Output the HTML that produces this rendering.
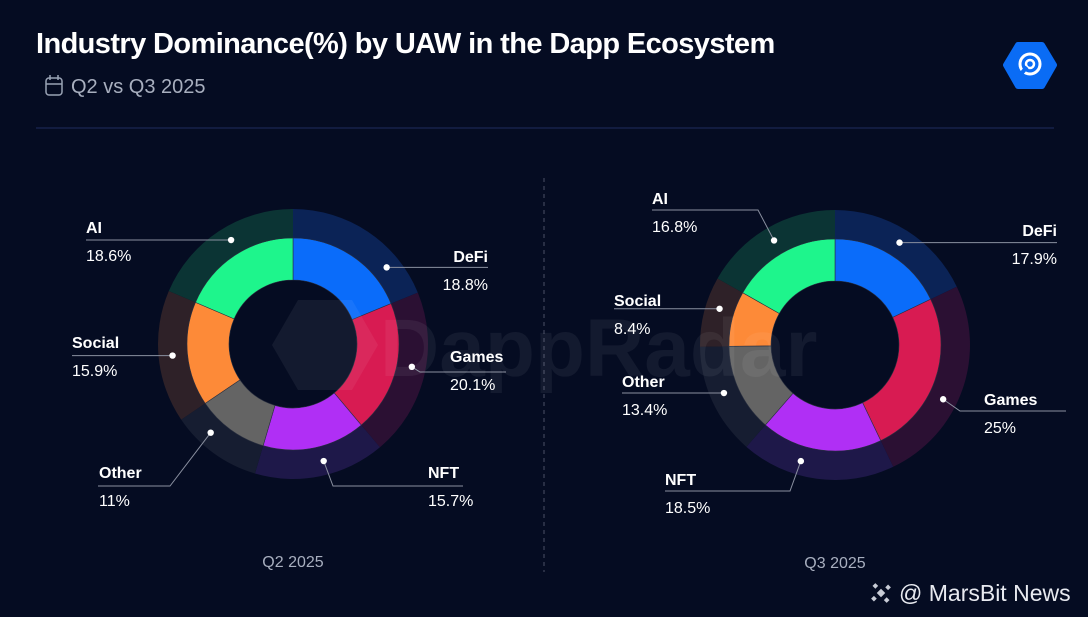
<!DOCTYPE html>
<html><head><meta charset="utf-8"><style>
html,body{margin:0;padding:0;background:#050c22;}
body{width:1088px;height:617px;overflow:hidden;position:relative;font-family:"Liberation Sans",sans-serif;}
</style></head><body>
<svg id="chart" width="1088" height="617" xmlns="http://www.w3.org/2000/svg" style="position:absolute;left:0;top:0">
<rect width="1088" height="617" fill="#050c22"/>
<text x="36" y="53" fill="#ffffff" font-size="29" font-weight="bold" letter-spacing="-0.6">Industry Dominance(%) by UAW in the Dapp Ecosystem</text>
<g stroke="#9aa3b5" stroke-width="1.5" fill="none">
<rect x="46" y="78" width="16" height="17" rx="3"/><line x1="50" y1="75" x2="50" y2="80"/><line x1="58" y1="75" x2="58" y2="80"/><line x1="46" y1="84" x2="62" y2="84"/>
</g>
<text x="71" y="93" fill="#a8afbf" font-size="20">Q2 vs Q3 2025</text>
<g>
<polygon points="1018,45 1042,45 1054,65 1042,86 1018,86 1006,65" fill="#0a6cf5" stroke="#0a6cf5" stroke-width="6" stroke-linejoin="round"/>
<circle cx="1030" cy="64" r="10" fill="none" stroke="#fff" stroke-width="3"/><circle cx="1030" cy="64" r="4" fill="none" stroke="#fff" stroke-width="2.5"/>
<line x1="1027" y1="67" x2="1020" y2="75" stroke="#0a6cf5" stroke-width="4"/>
</g>
<line x1="36" y1="128" x2="1054" y2="128" stroke="#17224a" stroke-width="1.5"/>
<line x1="544" y1="178" x2="544" y2="572" stroke="#4a5066" stroke-width="1" stroke-dasharray="4,4"/>
<g id="donuts"></g>
<g fill="#ffffff" fill-opacity="0.06">
<polygon points="298,300 352,300 378,345 352,390 298,390 272,345"/>
<text x="380" y="376" font-size="82" font-weight="bold">DappRadar</text>
</g>
<text x="293" y="567" text-anchor="middle" fill="#a8afbf" font-size="16">Q2 2025</text>
<text x="835" y="568" text-anchor="middle" fill="#a8afbf" font-size="16">Q3 2025</text>
<g>
<g transform="translate(881,593) rotate(45)" fill="#c8ccd6"><rect x="-3" y="-3" width="6" height="6"/><rect x="-11" y="-3" width="4" height="4"/><rect x="7" y="-1" width="4" height="4"/><rect x="-1" y="-11" width="4" height="4"/><rect x="-3" y="7" width="4" height="4"/></g>
<text x="899" y="601" fill="#e8eaf0" font-size="23">@ MarsBit News</text>
</g>
</svg>
<script>
const categories = ["DeFi","Games","NFT","Other","Social","AI"];
const q2Values = [18.8,20.1,15.7,11,15.9,18.6];
const q3Values = [17.9,25,18.5,13.4,8.4,16.8];
const q2Labels = ["18.8%","20.1%","15.7%","11%","15.9%","18.6%"];
const q3Labels = ["17.9%","25%","18.5%","13.4%","8.4%","16.8%"];
const innerColors = ["#0a6cfa","#d81b52","#b02ff5","#646464","#fd8a38","#1ef58c"];
const outerColors = ["#0b2356","#2b1033","#1e1849","#161d31","#2e2128","#0b3434"];
// where within each slice the label dot sits (0..1)
const q2DotPos = [0.75,0.46,0.45,0.67,0.5,0.54];
const q3DotPos = [0.5,0.58,0.63,0.53,0.6,0.5];
// label anchors [textX, textY(name), align, elbowX, elbowY, lineEndX]
const q2Anchors = [[488,262,"end",null,null,488],[450,362,"start",420,372,506],[428,478,"start",333,486,463],[99,478,"start",170,486,98],[72,348,"start",null,null,72],[86,233,"start",null,null,86]];
const q3Anchors = [[1057,236,"end",null,null,1057],[984,405,"start",960,411,1066],[665,485,"start",790,491,665],[622,387,"start",null,null,622],[614,306,"start",null,null,614],[652,204,"start",758,210,652]];
const NS="http://www.w3.org/2000/svg";
const g=document.getElementById('donuts');
function mk(t,a,p){const e=document.createElementNS(NS,t);for(const k in a)e.setAttribute(k,a[k]);(p||g).appendChild(e);return e;}
function pt(cx,cy,r,a){return [cx+r*Math.sin(a),cy-r*Math.cos(a)];}
function arc(cx,cy,r0,r1,a0,a1){const l=(a1-a0)>Math.PI?1:0;const p1=pt(cx,cy,r1,a0),p2=pt(cx,cy,r1,a1),p3=pt(cx,cy,r0,a1),p4=pt(cx,cy,r0,a0);
return `M${p1}A${r1},${r1} 0 ${l} 1 ${p2}L${p3}A${r0},${r0} 0 ${l} 0 ${p4}Z`;}
function donut(cx,cy,vals,labels,anch,dotPos,key){
 const tot=vals.reduce((a,b)=>a+b,0);let a=0;
 vals.forEach((v,i)=>{const a1=a+v/tot*2*Math.PI;
  const o=mk('path',{d:arc(cx,cy,106,135,a,a1),fill:outerColors[i]});
  
  
  const s=mk('path',{d:arc(cx,cy,64,106,a,a1),fill:innerColors[i],stroke:'#2a3040','stroke-width':'0.6'});
  
  
  const m=a+(a1-a)*dotPos[i];const d=pt(cx,cy,121,m);const an=anch[i];
  let pts=`${d[0]},${d[1]} `;
  if(an[3]!==null)pts+=`${an[3]},${an[4]} ${an[5]},${an[4]}`;else pts+=`${an[5]},${d[1]}`;
  const ln=mk('polyline',{points:pts,fill:'none',stroke:'#8a90a0','stroke-width':'1'});
  
  
  const dot=mk('circle',{cx:d[0],cy:d[1],r:3.2,fill:'#fff'});
  
  
  const t=mk('text',{x:an[0],y:an[1],fill:'#fff','font-size':'16','font-weight':'bold','text-anchor':an[2]});
  t.textContent=categories[i];
  
  
  const p=mk('text',{x:an[0],y:an[1]+28,fill:'#fff','font-size':'16','text-anchor':an[2]});
  p.textContent=labels[i];
  
  
  a=a1;});
}
donut(293,344,q2Values,q2Labels,q2Anchors,q2DotPos,'q2');
donut(835,345,q3Values,q3Labels,q3Anchors,q3DotPos,'q3');
</script>
</body></html>
